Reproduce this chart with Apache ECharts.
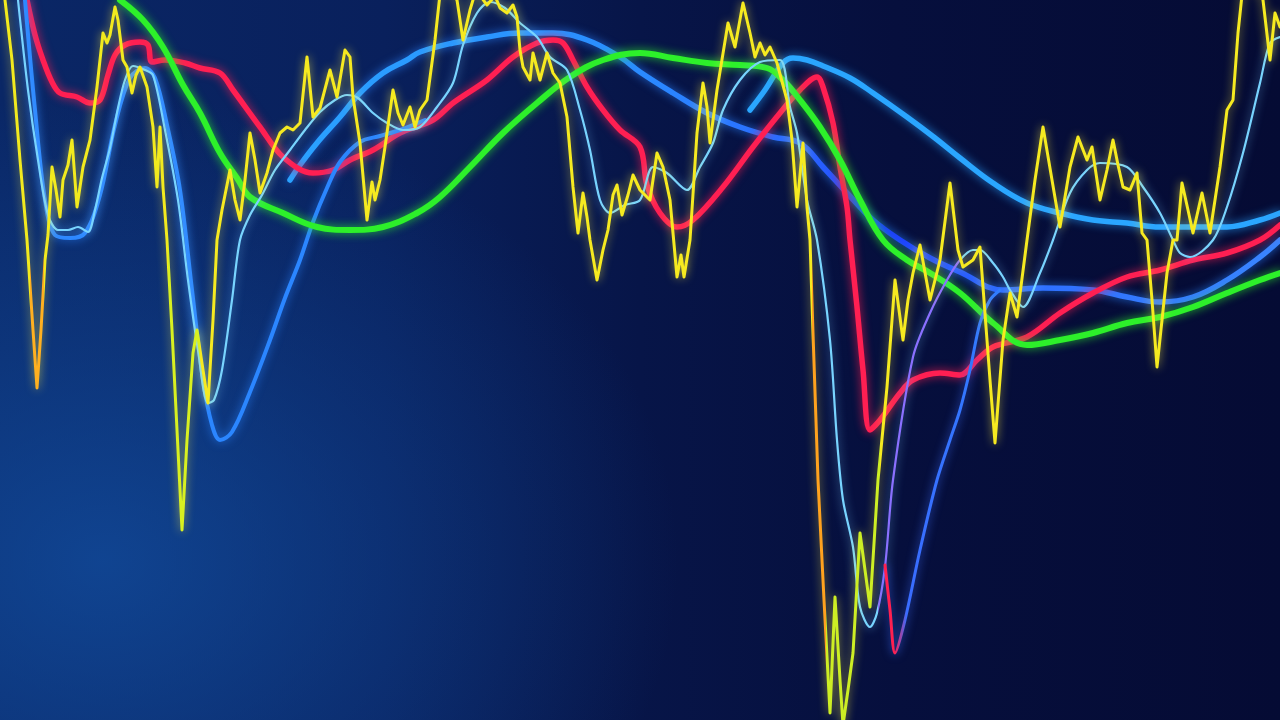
<!DOCTYPE html>
<html>
<head>
<meta charset="utf-8">
<script src="https://cdn.jsdelivr.net/npm/echarts@6/dist/echarts.min.js"></script>
<style>
html,body{margin:0;padding:0;width:1280px;height:720px;overflow:hidden;}
body{background:
  radial-gradient(ellipse 45% 65% at 8% 78%, rgba(18,78,160,0.75) 0%, rgba(18,78,160,0.35) 50%, rgba(18,78,160,0) 100%),
  linear-gradient(90deg, #0a2766 0%, #09205c 30%, #071548 50%, #060f3d 70%, #050b34 100%);}
#chart{width:1280px;height:720px;}
</style>
</head>
<body>
<div id="chart"></div>
<script>
// [time, depth-from-top] pairs (y axis is inverted)
const price = [[5,0],[12,60],[20,160],[27,240],[33,330],[37,388],[41,330],[45,260],[48,235],[52,167],[56,190],[60,217],[63,180],[68,165],[72,140],[77,207],[83,167],[90,140],[97,87],[103,33],[107,43],[110,35],[115,7],[118,20],[123,60],[127,67],[132,93],[136,75],[140,67],[147,87],[153,127],[157,187],[160,127],[163,187],[167,240],[172,330],[177,430],[182,530],[187,440],[193,353],[197,330],[203,370],[208,403],[213,320],[217,240],[222,210],[230,170],[235,200],[240,220],[245,180],[250,133],[255,160],[260,193],[267,173],[273,150],[280,133],[287,127],[293,130],[300,123],[307,57],[313,117],[320,108],[330,70],[337,97],[345,50],[350,57],[353,97],[360,143],[367,220],[372,182],[375,200],[380,180],[385,147],[393,90],[398,113],[403,125],[410,107],[415,127],[420,110],[427,100],[435,40],[441,-15],[450,-8],[457,0],[463,40],[470,10],[476,-10],[487,5],[495,-4],[500,8],[507,13],[513,5],[517,17],[520,50],[523,67],[530,80],[533,53],[540,80],[547,53],[553,73],[560,83],[567,117],[573,187],[578,233],[583,193],[587,217],[590,240],[597,280],[603,250],[608,230],[613,195],[617,185],[622,215],[628,195],[633,175],[640,190],[650,200],[657,153],[663,167],[670,200],[677,277],[681,255],[684,277],[690,240],[697,133],[703,83],[707,107],[710,143],[717,90],[728,23],[735,47],[743,3],[750,33],[755,57],[760,43],[765,55],[770,47],[777,63],[787,100],[792,140],[797,207],[803,143],[807,207],[810,240],[813,333],[818,480],[824,600],[830,713],[835,597],[840,680],[843,725],[848,690],[853,653],[860,533],[865,570],[870,607],[878,480],[887,387],[895,280],[899,310],[903,340],[908,300],[913,273],[920,245],[930,300],[940,260],[950,183],[958,250],[963,267],[973,260],[980,247],[983,287],[990,380],[995,443],[1003,340],[1010,293],[1017,317],[1027,240],[1035,180],[1043,127],[1052,180],[1060,227],[1070,167],[1078,137],[1087,160],[1092,147],[1100,200],[1107,170],[1113,140],[1118,165],[1123,187],[1130,190],[1137,173],[1142,233],[1147,240],[1152,300],[1157,367],[1162,320],[1167,273],[1173,240],[1177,240],[1182,183],[1188,210],[1193,233],[1202,193],[1210,233],[1215,200],[1220,167],[1227,110],[1233,100],[1238,33],[1242,-5],[1250,-20],[1258,-10],[1263,0],[1270,60],[1275,13],[1280,27]];

const fastMA = [[18,0],[28,90],[38,160],[48,215],[58,230],[68,230],[78,227],[88,232],[95,210],[102,178],[110,148],[118,108],[125,80],[133,66],[145,70],[153,75],[165,130],[178,200],[188,280],[198,350],[208,403],[214,400],[222,370],[232,300],[240,240],[250,215],[262,195],[275,170],[290,150],[305,130],[320,112],[335,100],[347,95],[358,98],[373,113],[387,123],[403,130],[420,127],[437,107],[453,83],[463,45],[477,13],[490,2],[505,8],[520,23],[537,37],[550,57],[567,70],[580,110],[590,150],[600,200],[610,213],[625,205],[640,200],[653,167],[667,173],[687,190],[700,167],[713,143],[723,110],[740,80],[760,62],[780,60],[790,107],[797,133],[807,200],[817,240],[830,340],[837,440],[843,500],[853,547],[860,607],[870,627],[877,613],[885,567],[893,480],[913,357],[930,313],[947,280],[960,260],[973,250],[980,250],[993,263],[1003,277],[1010,290],[1023,307],[1040,273],[1053,240],[1070,193],[1087,170],[1100,163],[1127,167],[1143,187],[1160,213],[1173,240],[1180,253],[1190,257],[1213,240],[1227,207],[1243,153],[1260,83],[1270,43],[1280,37]];

const swingMA = [[25,0],[35,110],[45,200],[55,235],[70,238],[85,233],[100,195],[115,125],[130,78],[145,68],[155,78],[167,125],[180,190],[192,290],[203,380],[212,425],[220,440],[232,432],[250,392],[270,340],[285,298],[300,260],[313,222],[327,188],[340,162],[360,142],[380,136],[400,130],[425,120]];

const reboundMA = [[885,565],[890,610],[895,653],[905,620],[920,550],[937,480],[950,440],[960,410],[970,370],[980,323],[990,300],[1000,290]];

const midMA = [[290,180],[300,165],[317,143],[340,117],[360,93],[383,73],[407,60],[420,52],[453,43],[487,37],[520,33],[553,33],[587,40],[620,57],[640,72],[673,93],[707,113],[740,127],[773,137],[800,143],[823,167],[847,193],[873,220],[900,240],[930,258],[960,272],[1003,290],[1043,288],[1093,290],[1127,297],[1160,302],[1193,297],[1227,280],[1260,257],[1280,240]];

const upperMA = [[750,110],[765,90],[783,63],[793,58],[807,60],[823,66],[850,78],[873,93],[907,117],[935,138],[960,158],[993,183],[1027,203],[1060,213],[1093,220],[1127,223],[1160,227],[1193,227],[1227,227],[1260,220],[1280,213]];

const redMA = [[27,0],[35,35],[43,60],[52,82],[60,93],[77,97],[90,103],[100,100],[108,75],[115,55],[125,45],[140,42],[148,45],[152,62],[165,60],[185,63],[200,68],[220,73],[233,90],[260,127],[283,157],[313,173],[333,170],[350,160],[373,150],[400,133],[433,120],[453,103],[487,80],[513,57],[537,43],[553,40],[563,43],[573,60],[587,87],[603,110],[620,130],[640,147],[647,185],[660,213],[677,227],[693,220],[723,187],[753,147],[780,113],[800,90],[817,77],[823,87],[833,123],[840,167],[847,207],[850,240],[857,307],[863,370],[870,430],[880,420],[900,393],[913,380],[940,373],[960,375],[977,360],[993,347],[1027,337],[1060,313],[1093,293],[1127,277],[1160,270],[1193,260],[1227,253],[1260,240],[1280,225]];

const greenMA = [[120,0],[143,20],[163,47],[183,85],[200,113],[220,153],[237,178],[250,197],[283,213],[317,227],[350,230],[383,227],[417,213],[440,197],[470,167],[503,133],[537,103],[570,77],[603,60],[640,53],[673,58],[707,63],[740,65],[767,68],[783,80],[800,100],[820,127],[840,160],[860,200],[883,240],[907,260],[930,273],[960,293],[993,323],[1027,345],[1060,340],[1093,333],[1127,323],[1160,317],[1193,307],[1227,293],[1260,280],[1280,273]];

const chart = echarts.init(document.getElementById('chart'), null, {renderer:'canvas'});
const G = echarts.graphic.LinearGradient;

function glowLine(name, data, color, width, smooth, z, glow){
  const ls = {width: width, shadowBlur: 10, shadowColor: glow, cap:'round', join:'round'};
  if (color) ls.color = color;
  return {
    name: name, type:'line', data: data, symbol:'none', smooth: smooth, z: z,
    lineStyle: ls, silent:true, animation:false
  };
}

chart.setOption({
  backgroundColor: 'transparent',
  animation:false,
  grid:{left:0,right:0,top:0,bottom:0},
  xAxis:{type:'value', min:0, max:1280, show:false},
  yAxis:{type:'value', min:0, max:720, inverse:true, show:false},
  visualMap:[
    {type:'piecewise', show:false, seriesIndex:7, dimension:0,
     pieces:[{lt:30,color:'#f2ea1e'},{gte:30,lt:44,color:'#ffb020'},{gte:44,lt:168,color:'#f2ea1e'},{gte:168,lt:200,color:'#d8f020'},{gte:200,lt:812,color:'#f6ea20'},{gte:812,lt:826,color:'#ffa21e'},{gte:826,lt:880,color:'#cdee24'},{gte:880,color:'#f6ea20'}]},
    {type:'piecewise', show:false, seriesIndex:5, dimension:0,
     pieces:[{lt:878,color:'#78d4ff'},{gte:878,lt:962,color:'#8a70ff'},{gte:962,color:'#78d4ff'}]}
  ],
  series:[
    glowLine('中期均线', midMA, new G(0,0,1,0,[{offset:0,color:'#2aa2ff'},{offset:0.35,color:'#2a8cff'},{offset:0.52,color:'#2a66ff'},{offset:0.6,color:'#1c3cff'},{offset:0.72,color:'#2c6cff'},{offset:1,color:'#3a86ff'}]), 5.5, 0.4, 2, 'rgba(40,130,255,0.8)'),
    glowLine('上轨', upperMA, '#2aa6ff', 5.5, 0.4, 2, 'rgba(40,160,255,0.8)'),
    glowLine('红色均线', redMA, '#ff1f52', 5.5, 0.35, 3, 'rgba(255,30,80,0.8)'),
    glowLine('摆动均线', swingMA, '#2b86ff', 4, 0.35, 3, 'rgba(40,130,255,0.8)'),
    glowLine('长期均线', greenMA, '#2df02a', 6, 0.4, 4, 'rgba(45,240,42,0.8)'),
    glowLine('快速均线', fastMA, null, 2.2, 0.3, 5, 'rgba(120,200,255,0.7)'),
    glowLine('反弹线', reboundMA, new G(0,0,1,0,[{offset:0,color:'#ff2050'},{offset:0.1,color:'#ff2050'},{offset:0.2,color:'#3a6cff'},{offset:1,color:'#2f7dff'}]), 3, 0.3, 5, 'rgba(60,110,255,0.8)'),
    glowLine('价格', price, null, 3, false, 6, 'rgba(255,240,60,0.6)')
  ]
});
</script>
</body>
</html>
